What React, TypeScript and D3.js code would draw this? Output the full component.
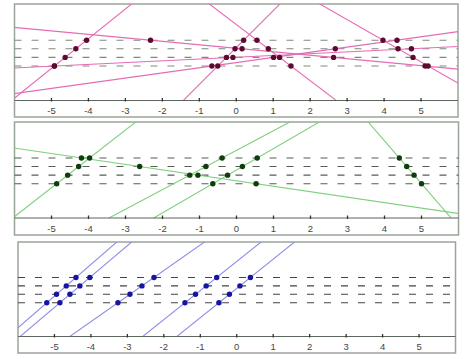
import React from 'react';
import * as d3 from 'd3';

// x tick labels shared by the three panels
const xTicks = [-5, -4, -3, -2, -1, 0, 1, 2, 3, 4, 5];
// levels of the four dashed reference lines
const levels = [4, 5, 6, 7];

// each line: [x where it crosses level 4, x where it crosses level 7]
const pinkLines: [number, number][] = [
  [-4.92, -4.05],
  [5.11, -2.32],
  [-0.5, 0.2],
  [1.48, 0.56],
  [5.19, 3.97],
  [-0.66, 4.35],
  [-4.92, 9.57],
];
const pinkDotLevels: number[][] = [
  [4, 5, 6, 7],
  [4, 5, 6, 7],
  [4, 5, 6, 7],
  [4, 5, 6, 7],
  [4, 5, 6, 7],
  [4, 5, 6, 7],
  [4, 5, 6],
];

const greenLines: [number, number][] = [
  [-4.86, -3.97],
  [0.53, -4.19],
  [-1.7, -0.39],
  [-0.64, 0.56],
  [5.0, 4.4],
];
const greenDotLevels: number[][] = [
  [4, 5, 6, 7],
  [4, 5, 6, 7],
  [5, 6, 7],
  [4, 5, 6, 7],
  [4, 5, 6, 7],
];

const blueLines: [number, number][] = [
  [-5.21, -4.41],
  [-4.85, -4.03],
  [-3.26, -2.27],
  [-1.42, -0.55],
  [-0.49, 0.375],
];
const blueDotLevels: number[][] = [
  [4, 5, 6, 7],
  [4, 5, 6, 7],
  [4, 5, 6, 7],
  [4, 5, 6, 7],
  [4, 5, 6, 7],
];

type Box = { left: number; right: number; top: number; axis: number; bottom: number };

function Panel({
  id,
  box,
  lines,
  dotLevels,
  lineColor,
  dotColor,
  dashColor,
}: {
  id: string;
  box: Box;
  lines: [number, number][];
  dotLevels: number[][];
  lineColor: string;
  dotColor: string;
  dashColor: string;
}) {
  const x = d3.scaleLinear().domain([-6, 6]).range([box.left, box.right]);
  const y = d3.scaleLinear().domain([0, 11.2]).range([box.axis, box.top]);
  const xAt = (l: [number, number], lv: number) => l[0] + ((lv - 4) * (l[1] - l[0])) / 3;
  const path = d3
    .line<[number, number]>()
    .x((d) => x(d[0]))
    .y((d) => y(d[1]));

  return (
    <g>
      <defs>
        <clipPath id={id}>
          <rect x={box.left} y={box.top} width={box.right - box.left} height={box.axis - box.top} />
        </clipPath>
      </defs>
      <rect
        x={box.left}
        y={box.top}
        width={box.right - box.left}
        height={box.bottom - box.top}
        fill="#fff"
        stroke="#9aa59a"
        strokeWidth={1.5}
      />
      {levels.map((lv) => (
        <line
          key={lv}
          x1={box.left}
          x2={box.right}
          y1={y(lv)}
          y2={y(lv)}
          stroke={dashColor}
          strokeWidth={1.1}
          strokeDasharray="7,10"
        />
      ))}
      <g clipPath={`url(#${id})`}>
        {lines.map((l, i) => (
          <path
            key={i}
            d={path([
              [xAt(l, -2), -2],
              [xAt(l, 14), 14],
            ]) as string}
            fill="none"
            stroke={lineColor}
            strokeWidth={1.1}
          />
        ))}
      </g>
      {lines.map((l, i) =>
        dotLevels[i].map((lv) => (
          <circle key={`${i}-${lv}`} cx={x(xAt(l, lv))} cy={y(lv)} r={2.7} fill={dotColor} />
        ))
      )}
      <line x1={box.left} x2={box.right} y1={box.axis} y2={box.axis} stroke="#5d665d" strokeWidth={1.2} />
      {xTicks.map((t) => (
        <g key={t}>
          <line x1={x(t)} x2={x(t)} y1={box.axis - 2.5} y2={box.axis + 1} stroke="#333" strokeWidth={1.3} />
          <text
            x={x(t)}
            y={box.axis + 13.5}
            textAnchor="middle"
            fontFamily="Liberation Sans, Arial, sans-serif"
            fontSize={9.5}
            fill="#444"
          >
            {t < 0 ? `-${Math.abs(t)}` : `${t}`}
          </text>
        </g>
      ))}
    </g>
  );
}

export default function App() {
  return (
    <svg
      width={474}
      height={359}
      style={{ position: 'absolute', left: 0, top: 0, background: '#fff' }}
    >
      <Panel
        id="p1"
        box={{ left: 14.5, right: 458, top: 4, axis: 100.5, bottom: 117 }}
        lines={pinkLines}
        dotLevels={pinkDotLevels}
        lineColor="#e56bb5"
        dotColor="#5c0b2e"
        dashColor="#7d8b7d"
      />
      <Panel
        id="p2"
        box={{ left: 14.5, right: 458.5, top: 122, axis: 218, bottom: 235 }}
        lines={greenLines}
        dotLevels={greenDotLevels}
        lineColor="#7fcf7f"
        dotColor="#0d3d0d"
        dashColor="#555f55"
      />
      <Panel
        id="p3"
        box={{ left: 18, right: 455.5, top: 242, axis: 336.5, bottom: 353 }}
        lines={blueLines}
        dotLevels={blueDotLevels}
        lineColor="#8c8ce8"
        dotColor="#1515a0"
        dashColor="#444444"
      />
    </svg>
  );
}
